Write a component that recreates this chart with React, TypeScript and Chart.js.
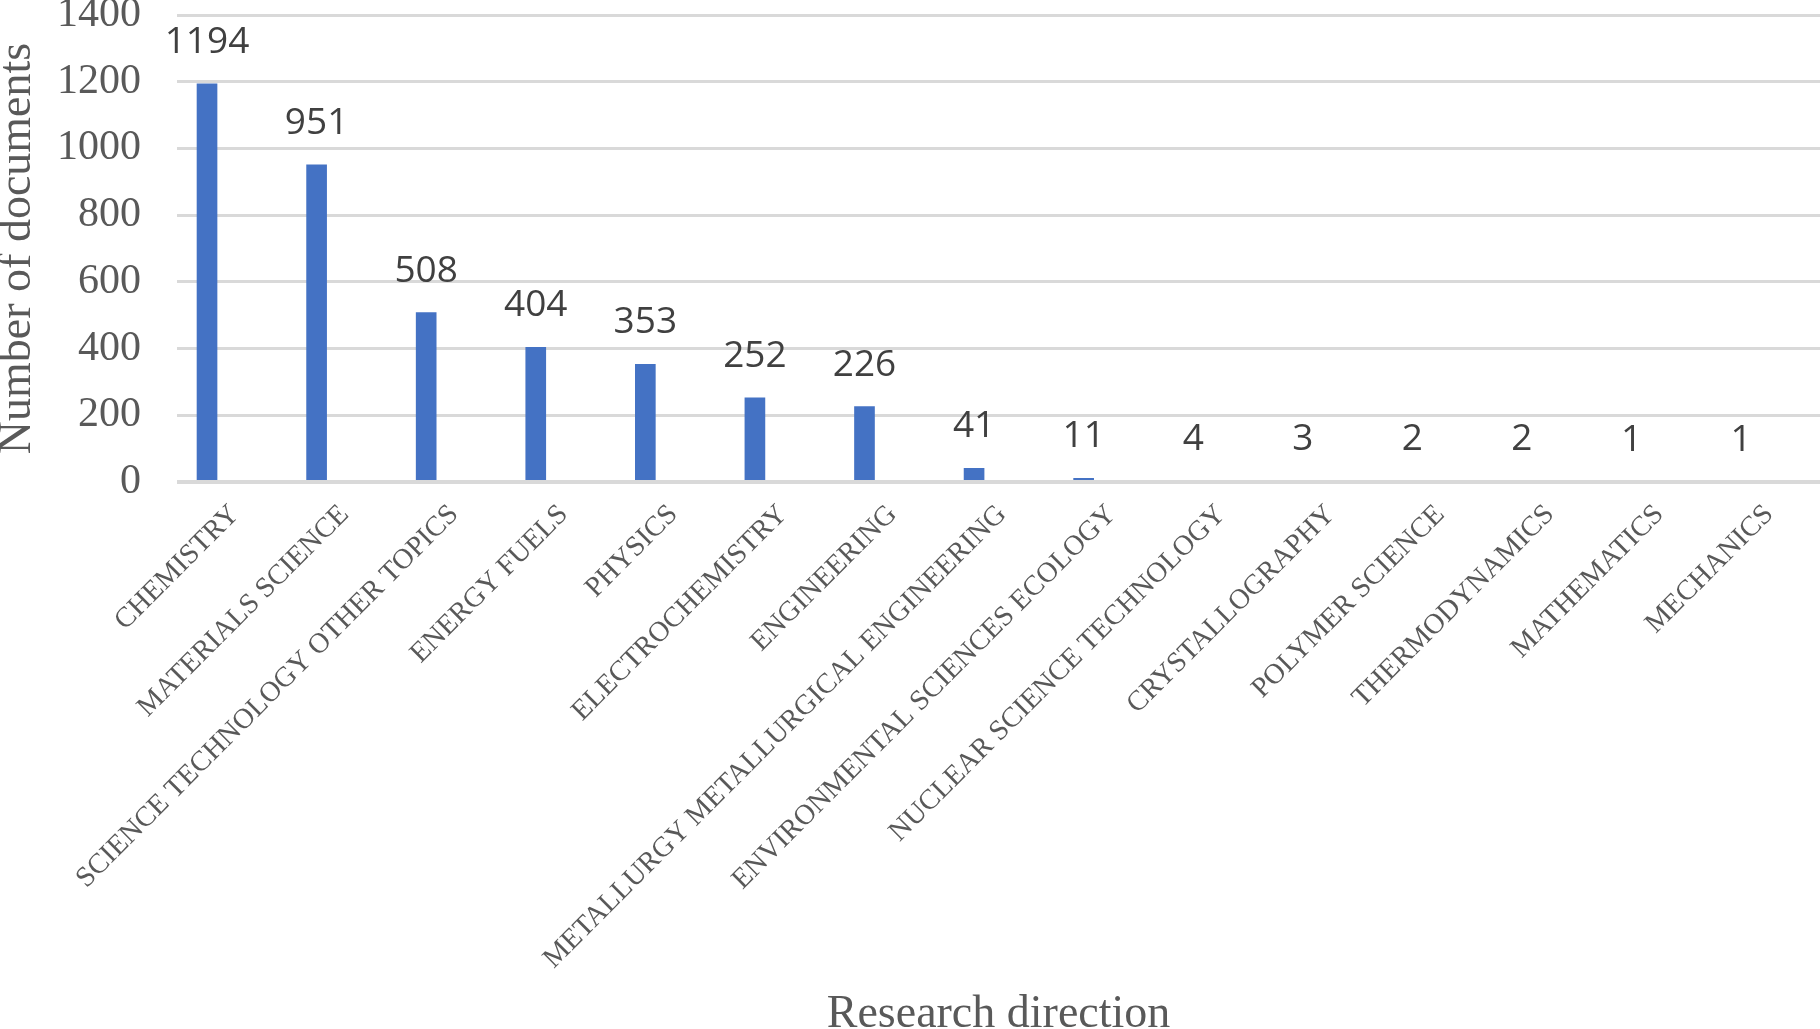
import React, { useEffect, useRef } from 'react';
import { Chart, registerables } from 'chart.js';

Chart.register(...registerables);

const categories = [
  'CHEMISTRY',
  'MATERIALS SCIENCE',
  'SCIENCE TECHNOLOGY OTHER TOPICS',
  'ENERGY FUELS',
  'PHYSICS',
  'ELECTROCHEMISTRY',
  'ENGINEERING',
  'METALLURGY METALLURGICAL ENGINEERING',
  'ENVIRONMENTAL SCIENCES ECOLOGY',
  'NUCLEAR SCIENCE TECHNOLOGY',
  'CRYSTALLOGRAPHY',
  'POLYMER SCIENCE',
  'THERMODYNAMICS',
  'MATHEMATICS',
  'MECHANICS',
];
const documentCounts = [1194, 951, 508, 404, 353, 252, 226, 41, 11, 4, 3, 2, 2, 1, 1];
const yTickValues = [0, 200, 400, 600, 800, 1000, 1200, 1400];
const yAxisTitle = 'Number of documents';
const xAxisTitle = 'Research direction';

const W = 1820;
const H = 1029;

// Horizontal axis line (value 0) drawn over the bars, as in the original
const axisLineOnTop = {
  id: 'axisLineOnTop',
  afterDatasetsDraw(chart: any) {
    const ctx = chart.ctx;
    const y = chart.scales.y.getPixelForValue(0);
    const { left, right } = chart.chartArea;
    ctx.save();
    ctx.strokeStyle = '#d9d9d9';
    ctx.lineWidth = 4;
    ctx.beginPath();
    ctx.moveTo(left, y);
    ctx.lineTo(right, y);
    ctx.stroke();
    ctx.restore();
  },
};

const valueLabels = {
  id: 'valueLabels',
  afterDatasetsDraw(chart: any) {
    const ctx = chart.ctx;
    const meta = chart.getDatasetMeta(0);
    ctx.save();
    ctx.font = '37px "Open Sans", sans-serif';
    ctx.fillStyle = '#404040';
    ctx.textAlign = 'center';
    ctx.textBaseline = 'alphabetic';
    meta.data.forEach((el: any, i: number) => {
      ctx.fillText(String(documentCounts[i]), el.x, el.y - 31);
    });
    ctx.restore();
  },
};

export default function App() {
  const ref = useRef<HTMLCanvasElement | null>(null);

  useEffect(() => {
    document.body.style.margin = '0';
    const canvas = ref.current;
    if (!canvas) return;
    const chart = new Chart(canvas, {
      type: 'bar',
      data: {
        datasets: [
          {
            data: documentCounts.map((v, i) => ({ x: i, y: v })),
            backgroundColor: '#4472C4',
            borderWidth: 0,
            barThickness: 20,
          } as any,
        ],
      },
      plugins: [axisLineOnTop, valueLabels],
      options: {
        responsive: false,
        animation: false,
        devicePixelRatio: 1,
        layout: { padding: { top: 15, left: 0, right: 0, bottom: 0 } },
        plugins: {
          legend: { display: false },
          tooltip: { enabled: false },
        },
        scales: {
          x: {
            type: 'linear',
            offset: false,
            min: -0.274,
            max: 14.72,
            grid: { display: false, drawTicks: false, offset: false },
            border: { display: false },
            afterBuildTicks: (scale: any) => {
              scale.ticks = categories.map((_, i) => ({ value: i }));
            },
            afterFit: (scale: any) => {
              scale.height = H - 482;
              scale.paddingLeft = 0;
              scale.paddingRight = 0;
            },
            ticks: {
              autoSkip: false,
              minRotation: 45,
              maxRotation: 45,
              padding: 16,
              labelOffset: 28,
              color: '#595959',
              font: { family: '"Liberation Serif", "Times New Roman", serif', size: 28.5 },
              callback: (v: any) => categories[v] ?? '',
            },
            title: {
              display: true,
              text: xAxisTitle,
              color: '#595959',
              padding: 0,
              font: { family: '"Liberation Serif", "Times New Roman", serif', size: 46, lineHeight: 0.6 },
            },
          },
          y: {
            min: 0,
            max: 1400,
            afterBuildTicks: (scale: any) => {
              scale.ticks = yTickValues.map((v) => ({ value: v }));
            },
            afterFit: (scale: any) => {
              scale.width = 177;
              scale.paddingTop = 0;
              scale.paddingBottom = 0;
            },
            grid: { color: '#d9d9d9', lineWidth: 3, drawTicks: false },
            border: { display: false },
            ticks: {
              padding: 36,
              color: '#595959',
              font: { family: '"Liberation Serif", "Times New Roman", serif', size: 42 },
              callback: (v: any) => String(v),
            },
            title: {
              display: true,
              text: yAxisTitle,
              color: '#595959',
              padding: 0,
              font: { family: '"Liberation Serif", "Times New Roman", serif', size: 46, lineHeight: 0.8 },
            },
          },
        },
      } as any,
    });
    return () => chart.destroy();
  }, []);

  return (
    <div style={{ width: W, height: H, background: '#ffffff' }}>
      <canvas ref={ref} width={W} height={H} style={{ width: W, height: H, display: 'block' }} />
    </div>
  );
}
